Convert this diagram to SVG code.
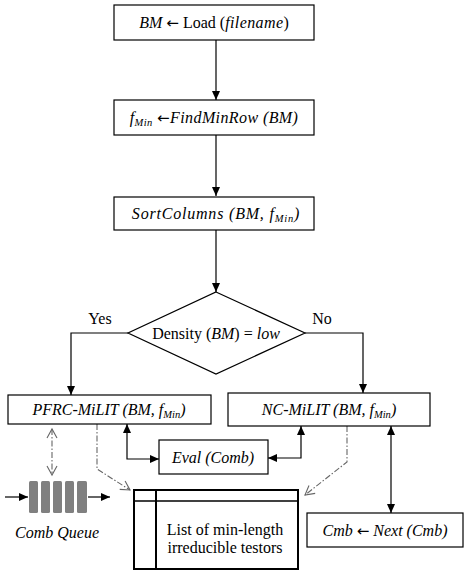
<svg xmlns="http://www.w3.org/2000/svg" width="474" height="579" viewBox="0 0 474 579">
<defs>
<style>
.box{fill:#fff;stroke:#000;stroke-width:1.2}
.t{font-family:"Liberation Serif","Times New Roman",serif;font-size:16px;fill:#000;text-anchor:middle}
.i{font-style:italic}
.w{letter-spacing:0.4px}
.sub{font-size:10.5px}
.ar{font-family:"DejaVu Sans",sans-serif;font-size:15px;font-style:normal}
.ln{fill:none;stroke:#000;stroke-width:1.2}
.dd{fill:none;stroke:#666;stroke-width:1.1;stroke-dasharray:6 2 1.5 2}
.q{fill:#808080}
</style>
<marker id="ah" markerWidth="10" markerHeight="10" refX="9" refY="5" orient="auto-start-reverse" markerUnits="userSpaceOnUse">
<path d="M0,1 L9,5 L0,9 Z" fill="#000"/>
</marker>
<marker id="oh" markerWidth="12" markerHeight="12" refX="10" refY="6" orient="auto-start-reverse" markerUnits="userSpaceOnUse">
<path d="M1,1 L10,6 L1,11" fill="none" stroke="#666" stroke-width="1.1"/>
</marker>
</defs>
<g id="connectors">
<line class="ln" x1="216" y1="40" x2="216" y2="100" marker-end="url(#ah)"/>
<line class="ln" x1="216" y1="135" x2="216" y2="196" marker-end="url(#ah)"/>
<line class="ln" x1="216" y1="230" x2="216" y2="292" marker-end="url(#ah)"/>
<polyline class="ln" points="128,333 71,333 71,395" marker-end="url(#ah)"/>
<polyline class="ln" points="305,333 363,333 363,393" marker-end="url(#ah)"/>
<polyline class="ln" points="127,424 127,459 159,459" marker-start="url(#ah)" marker-end="url(#ah)"/>
<polyline class="ln" points="301,426 301,458 268,458" marker-start="url(#ah)" marker-end="url(#ah)"/>
<line class="ln" x1="391" y1="426" x2="391" y2="513" marker-start="url(#ah)" marker-end="url(#ah)"/>
<line class="dd" x1="52" y1="429" x2="52" y2="475" marker-start="url(#oh)" marker-end="url(#oh)"/>
<polyline class="dd" points="97,424 97,469 130,490" marker-end="url(#oh)"/>
<polyline class="dd" points="347,426 347,462 305,495" marker-end="url(#oh)"/>
<line class="ln" x1="5" y1="497" x2="28" y2="497" marker-end="url(#ah)"/>
<line class="ln" x1="88" y1="497" x2="110" y2="497" marker-end="url(#ah)"/>
</g>
<g id="load">
<rect class="box" x="114" y="5" width="200" height="35"/>
<text class="t" x="214" y="28"><tspan class="i">BM</tspan> <tspan class="ar">←</tspan> Load (<tspan class="i w">filename</tspan>)</text>
</g>
<g id="findminrow">
<rect class="box" x="114" y="100" width="200" height="35"/>
<text class="t i w" x="214" y="123">f<tspan class="sub" dy="3">Min</tspan><tspan dy="-3"> </tspan><tspan class="ar">←</tspan>FindMinRow (BM)</text>
</g>
<g id="sortcolumns">
<rect class="box" x="114" y="197" width="200" height="33"/>
<text class="t i" x="216" y="219" style="letter-spacing:0.8px">SortColumns (BM, f<tspan class="sub" dy="3">Min</tspan><tspan dy="-3">)</tspan></text>
</g>
<g id="density">
<polygon class="box" points="216,292 305,333 216,374 128,333"/>
<text class="t" x="216" y="338.5">Density (<tspan class="i">BM</tspan>) = <tspan class="i">low</tspan></text>
<text class="t" x="100" y="324">Yes</text>
<text class="t" x="322" y="324">No</text>
</g>
<g id="pfrc">
<rect class="box" x="8" y="395" width="203" height="29"/>
<text class="t i" x="109" y="415">PFRC-MiLIT (BM, f<tspan class="sub" dy="3">Min</tspan><tspan dy="-3">)</tspan></text>
</g>
<g id="nc">
<rect class="box" x="228" y="393" width="202" height="33"/>
<text class="t i" x="329" y="415">NC-MiLIT (BM, f<tspan class="sub" dy="3">Min</tspan><tspan dy="-3">)</tspan></text>
</g>
<g id="eval">
<rect class="box" x="159" y="440" width="109" height="34"/>
<text class="t i" x="213" y="462.5">Eval (Comb)</text>
</g>
<g id="queue">
<rect class="q" x="29" y="481" width="9" height="32" rx="1.5"/>
<rect class="q" x="41" y="481" width="9" height="32" rx="1.5"/>
<rect class="q" x="53" y="481" width="9" height="32" rx="1.5"/>
<rect class="q" x="65" y="481" width="9" height="32" rx="1.5"/>
<rect class="q" x="77" y="481" width="10" height="32" rx="1.5"/>
<text class="t i" x="57" y="538">Comb Queue</text>
</g>
<g id="list">
<rect x="134" y="490" width="164" height="79" fill="#fff" stroke="#000" stroke-width="2"/>
<line x1="134" y1="501" x2="298" y2="501" stroke="#000" stroke-width="1.5"/>
<line x1="156" y1="490" x2="156" y2="569" stroke="#000" stroke-width="2"/>
<text class="t" x="225" y="535">List of min-length</text>
<text class="t" x="225" y="553">irreducible testors</text>
</g>
<g id="next">
<rect class="box" x="307" y="513" width="156" height="34"/>
<text class="t" x="385" y="535.5"><tspan class="i">Cmb</tspan> <tspan class="ar">←</tspan> <tspan class="i">Next (Cmb)</tspan></text>
</g>
</svg>
